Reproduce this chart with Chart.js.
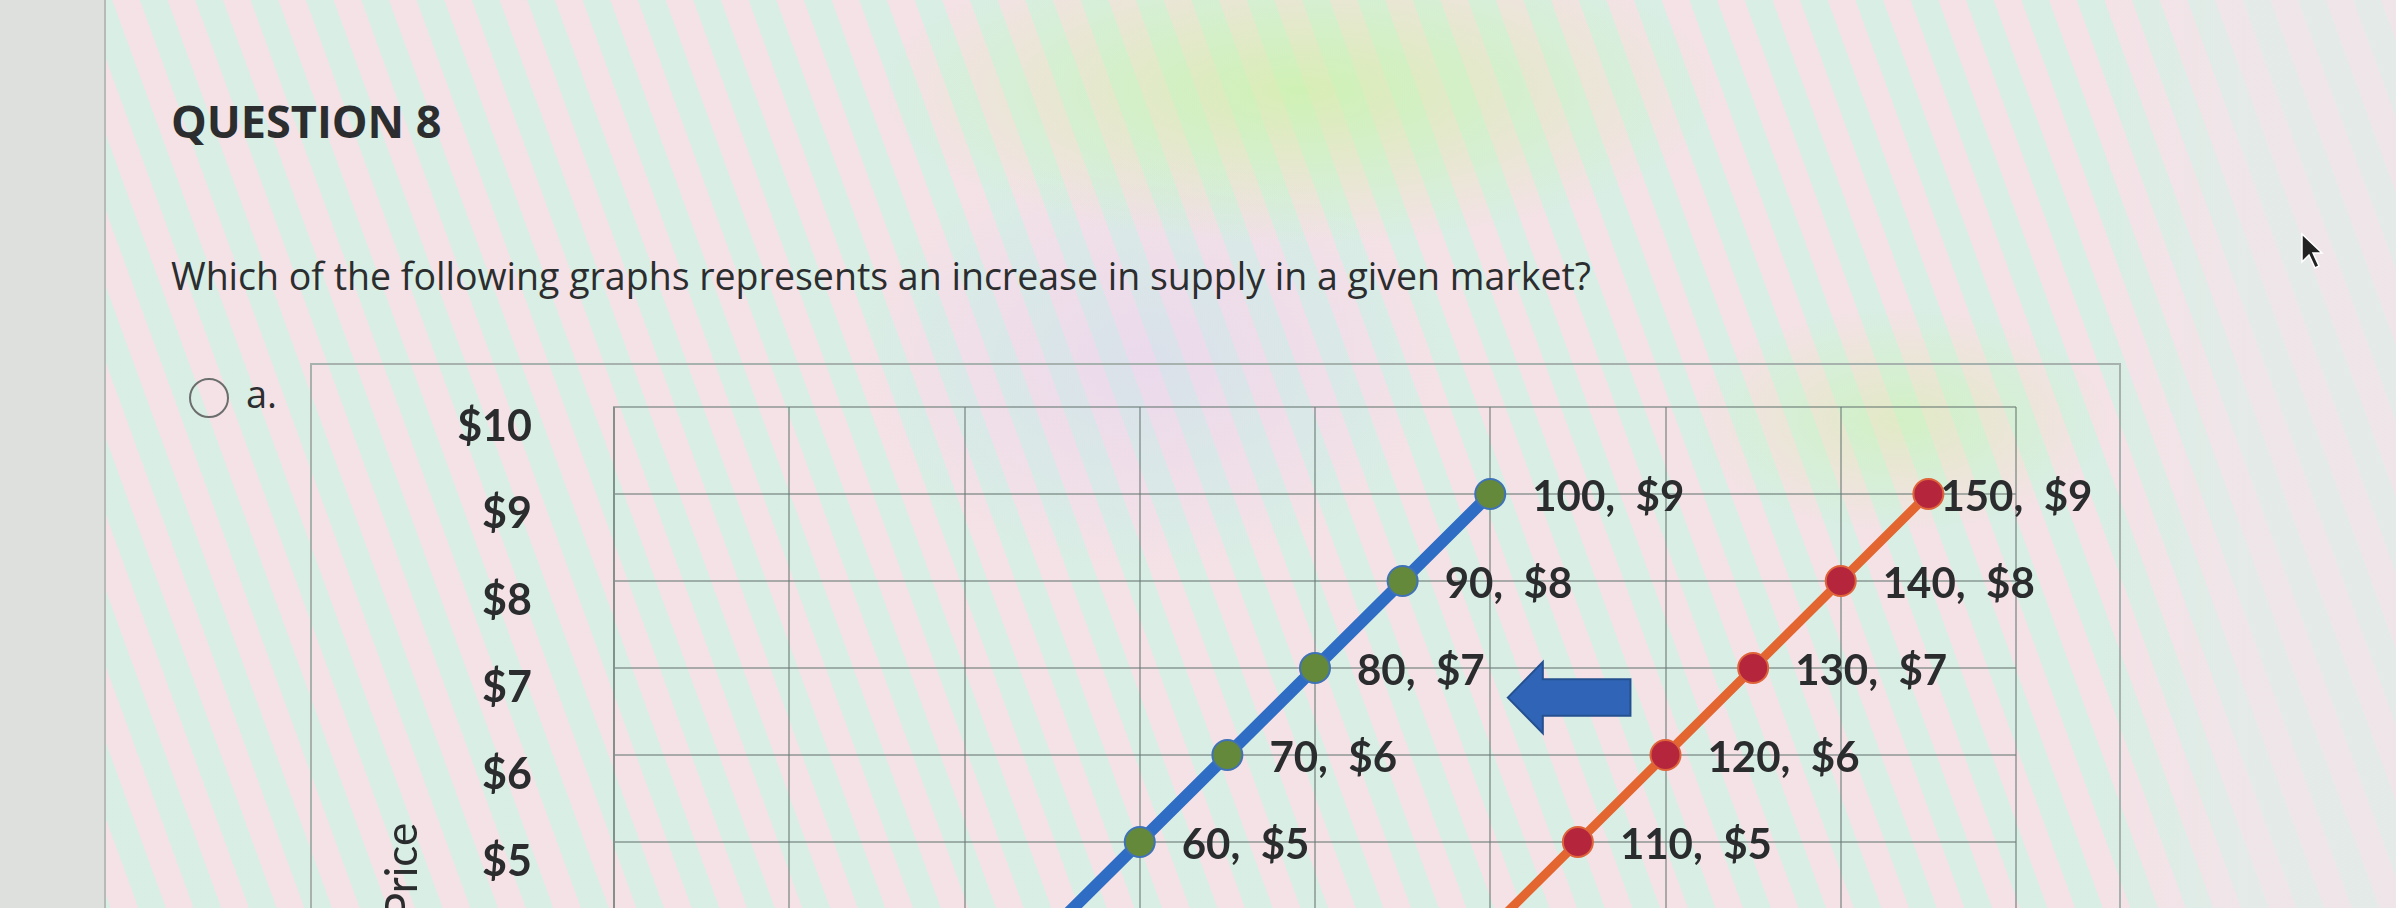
<!DOCTYPE html>
<html lang="en">
<head>
<meta charset="UTF-8" />
<title>Question 8</title>
<script src="https://cdn.jsdelivr.net/npm/chart.js"></script>
<style>
  html, body { margin: 0; padding: 0; }
  body {
    width: 2396px; height: 908px; overflow: hidden; position: relative;
    font-family: "Open Sans", sans-serif; color: #2b2d2e;
    background-color: #e9ede9;
    background-image:
      radial-gradient(ellipse 600px 220px at 1300px 90px, rgba(205,242,165,0.75), rgba(205,242,165,0) 70%),
      radial-gradient(ellipse 300px 160px at 1900px 420px, rgba(205,242,165,0.5), rgba(205,242,165,0) 70%),
      radial-gradient(ellipse 420px 300px at 1150px 360px, rgba(222,208,242,0.45), rgba(222,208,242,0) 70%),
      linear-gradient(90deg, rgba(233,233,233,0) 0 2100px, rgba(236,232,234,0.6) 2250px),
      repeating-linear-gradient(70deg, rgba(246,224,230,0.85) 0 26px, rgba(214,238,228,0.85) 26px 52px);
  }
  .side { position: absolute; left: 0; top: 0; width: 104px; height: 908px; background: #dde0dd; border-right: 2px solid #b7bbb8; }
  .title { position: absolute; left: 171px; top: 90px; font-size: 45px; font-weight: 700; white-space: nowrap; }
  .question { position: absolute; left: 171px; top: 250px; font-size: 37.5px; white-space: nowrap; }
  .radio { position: absolute; left: 189px; top: 378px; width: 36px; height: 36px; border: 2px solid #6b6e6d; border-radius: 50%; }
  .opt { position: absolute; left: 246px; top: 367px; font-size: 38px; }
  .frame { position: absolute; left: 310px; top: 363px; width: 1807px; height: 700px; border: 2px solid #a7b1ad; }
  .ytitle { position: absolute; left: 340px; top: 845px; width: 120px; height: 52px; line-height: 52px; text-align: center;
    font-family: Lato, sans-serif; font-size: 44px; color: #2a2c2d; transform: rotate(-90deg); }
  #chart { position: absolute; left: 310px; top: 363px; }
  .cursor { position: absolute; left: 2300px; top: 232px; }
</style>
</head>
<body>
  <div class="side"></div>
  <div class="title">QUESTION 8</div>
  <div class="question">Which of the following graphs represents an increase in supply in a given market?</div>
  <div class="radio"></div>
  <div class="opt">a.</div>
  <div class="frame"></div>
  <canvas id="chart" width="1809" height="1000"></canvas>
  <div class="ytitle">Price</div>
  <svg class="cursor" width="24" height="40"><polygon points="2,2 2,30 9,23 15,36 19,34 13,21 22,21" fill="#222" stroke="#fff" stroke-width="1.5"/></svg>

<script>
  // supply before and after the shift (quantity, price)
  const quantityBefore = [50, 60, 70, 80, 90, 100];
  const quantityAfter = [100, 110, 120, 130, 140, 150];
  const priceLevels = [4, 5, 6, 7, 8, 9];
  const priceTicks = [0, 1, 2, 3, 4, 5, 6, 7, 8, 9, 10];
  const quantityTicks = [0, 20, 40, 60, 80, 100, 120, 140, 160];

  // block arrow between the curves, in data units
  const shiftArrow = { tip: 102, neck: 106, tail: 116, mid: 6.66, head: 0.41, shaft: 0.21 };

  const labelFont = 'bold 42px Lato';
  const gridColor = 'rgba(105,122,116,0.55)';

  const pointLabels = {
    id: 'pointLabels',
    afterDatasetsDraw(chart) {
      const ctx = chart.ctx;
      ctx.save();
      ctx.font = labelFont;
      ctx.fillStyle = '#2a2c2d';
      ctx.textBaseline = 'middle';
      chart.data.datasets.forEach((ds, di) => {
        chart.getDatasetMeta(di).data.forEach((pt, i) => {
          const d = ds.data[i];
          const gap = (di === 1 && i === ds.data.length - 1) ? 12 : 42;
          ctx.fillText(d.x + ',  $' + d.y, pt.x + gap, pt.y + 3);
        });
      });
      ctx.restore();
    }
  };

  const arrowPlugin = {
    id: 'arrow',
    afterDatasetsDraw(chart) {
      const { x, y } = chart.scales;
      const a = shiftArrow;
      const ctx = chart.ctx;
      ctx.save();
      ctx.beginPath();
      ctx.moveTo(x.getPixelForValue(a.tip), y.getPixelForValue(a.mid));
      ctx.lineTo(x.getPixelForValue(a.neck), y.getPixelForValue(a.mid + a.head));
      ctx.lineTo(x.getPixelForValue(a.neck), y.getPixelForValue(a.mid + a.shaft));
      ctx.lineTo(x.getPixelForValue(a.tail), y.getPixelForValue(a.mid + a.shaft));
      ctx.lineTo(x.getPixelForValue(a.tail), y.getPixelForValue(a.mid - a.shaft));
      ctx.lineTo(x.getPixelForValue(a.neck), y.getPixelForValue(a.mid - a.shaft));
      ctx.lineTo(x.getPixelForValue(a.neck), y.getPixelForValue(a.mid - a.head));
      ctx.closePath();
      ctx.fillStyle = '#2f64b6';
      ctx.fill();
      ctx.lineWidth = 2;
      ctx.strokeStyle = '#25508f';
      ctx.stroke();
      ctx.restore();
    }
  };

  new Chart(document.getElementById('chart'), {
    type: 'scatter',
    data: {
      datasets: [
        {
          label: 'Supply',
          data: quantityBefore.map((q, i) => ({ x: q, y: priceLevels[i] })),
          showLine: true,
          borderColor: '#2f6cc4',
          borderWidth: 12,
          pointRadius: 15,
          pointBackgroundColor: '#65893a',
          pointBorderColor: '#3f72b6',
          pointBorderWidth: 2
        },
        {
          label: 'Supply (new)',
          data: quantityAfter.map((q, i) => ({ x: q, y: priceLevels[i] })),
          showLine: true,
          borderColor: '#e3652f',
          borderWidth: 9,
          pointRadius: 15,
          pointBackgroundColor: '#b5263c',
          pointBorderColor: '#e0643a',
          pointBorderWidth: 2
        }
      ]
    },
    options: {
      responsive: false,
      devicePixelRatio: 1,
      animation: false,
      layout: { padding: { top: 44, right: 103, left: 0, bottom: 0 } },
      plugins: { legend: { display: false }, tooltip: { enabled: false } },
      scales: {
        x: {
          type: 'linear', min: 0, max: 160,
          afterBuildTicks: axis => { axis.ticks = quantityTicks.map(v => ({ value: v })); },
          afterFit: axis => { axis.height = 86; },
          grid: { color: gridColor, lineWidth: 2, drawTicks: false },
          border: { display: false },
          ticks: { display: false }
        },
        y: {
          type: 'linear', min: 0, max: 10,
          afterBuildTicks: axis => { axis.ticks = priceTicks.map(v => ({ value: v })); },
          afterFit: axis => { axis.width = 304; axis.paddingTop = 0; axis.paddingBottom = 0; },
          grid: { color: gridColor, lineWidth: 2, drawTicks: false },
          border: { color: gridColor, width: 2 },
          ticks: {
            padding: 82,
            labelOffset: 20,
            color: '#2a2c2d',
            font: { family: 'Lato', size: 43, weight: 'bold' },
            callback: v => '$' + v
          }
        }
      }
    },
    plugins: [arrowPlugin, pointLabels]
  });
</script>
</body>
</html>
